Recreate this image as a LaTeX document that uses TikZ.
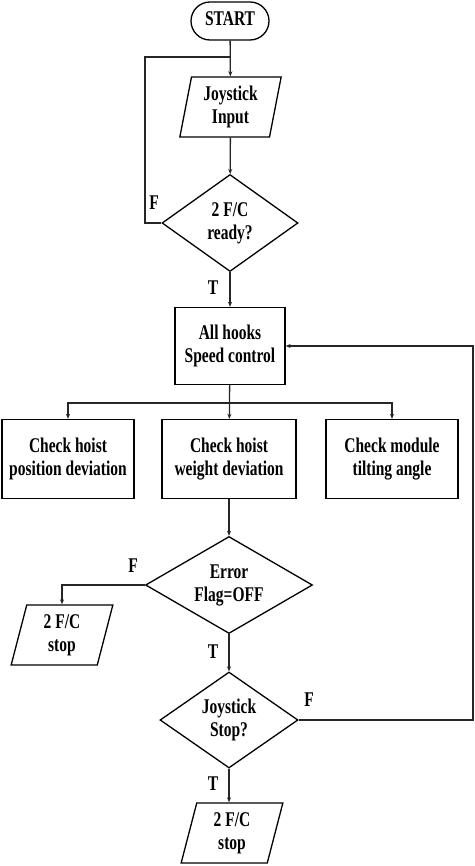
\documentclass[tikz,border=0pt]{standalone}
\usepackage{fontspec}
\usepackage{graphicx}
\setmainfont{Liberation Serif}
\usetikzlibrary{shapes.geometric,shapes.misc,arrows.meta}

\newcommand{\alto}[1]{\scalebox{1}[1.35]{\begin{tabular}{@{}c@{}}#1\end{tabular}}}

\begin{document}
\begin{tikzpicture}[x=1pt,y=-1pt,
	font=\fontsize{15.5}{17}\selectfont\bfseries,
	linea/.style={line width=1.3pt,draw=black!85},
	flecha/.style={linea,-{Stealth[length=5pt,width=4pt]}},
	caja/.style={draw,line width=1.3pt,rectangle,align=center,minimum width=132pt,minimum height=79pt,inner sep=1pt},
	entrada/.style={draw,line width=1.3pt,trapezium,trapezium left angle=80,trapezium right angle=100,trapezium stretches=true,align=center,minimum width=102pt,minimum height=60pt,inner sep=0pt},
	decision/.style={draw,line width=1.3pt,diamond,shape aspect=1.8,align=center,inner sep=0pt},
	etiq/.style={inner sep=0pt}
]

		\useasboundingbox (0,0) rectangle (474,866);

		\node[draw,line width=1.3pt,rounded rectangle,minimum width=80pt,minimum height=38pt,inner sep=1pt] (start) at (230,21) {\alto{START}};
		\node[entrada] (joy) at (230.5,107) {\alto{Joystick\\Input}};
		\node[decision,minimum width=136pt,minimum height=97pt] (ready) at (230,223) {\alto{2 F/C\\ready?}};
		\node[caja,minimum width=110pt,minimum height=77pt] (hooks) at (230,346) {\alto{All hooks\\Speed control}};

		\node[caja] (pos) at (68,459) {\alto{Check hoist\\position deviation}};
		\node[caja,minimum width=134pt] (wgt) at (229,459) {\alto{Check hoist\\weight deviation}};
		\node[caja] (tilt) at (392,459) {\alto{Check module\\tilting angle}};

		\node[decision,minimum width=167pt,minimum height=97pt] (err) at (229,585) {\alto{Error\\Flag=OFF}};
		\node[entrada] (stopA) at (62,635) {\alto{2 F/C\\stop}};
		\node[decision,minimum width=138pt,minimum height=96pt] (jstop) at (229,720) {\alto{Joystick\\Stop?}};
		\node[entrada] (stopB) at (232,833) {\alto{2 F/C\\stop}};

		\coordinate (jn) at (230,57); %union
		\coordinate (br) at (229,403); %rama
		\coordinate (lp) at (145,223); %lazo F
		\coordinate (rt) at (473,720); %lazo derecha

		\draw[flecha] (start) -- (joy);
		\draw[linea] (ready.west) -- (lp) |- (jn);
		\draw[flecha] (joy) -- (ready);
		\draw[flecha] (ready) -- (hooks);

		\draw[flecha] (hooks) -- (wgt);
		\draw[flecha] (br) -| (pos.north);
		\draw[flecha] (br) -| (tilt.north);

		\draw[flecha] (wgt) -- (err);
		\draw[flecha] (err.west) -| (stopA.north);
		\draw[flecha] (err) -- (jstop);
		\draw[flecha] (jstop.east) -- (rt) |- (hooks.east);
		\draw[flecha] (jstop) -- (stopB.north -| jstop.south);

		\node[etiq] (f1) at (154,205) {\alto{F}};
		\node[etiq] (t1) at (213,290) {\alto{T}};
		\node[etiq] (f2) at (133,568) {\alto{F}};
		\node[etiq] (t2) at (213,654) {\alto{T}};
		\node[etiq] (f3) at (309,702) {\alto{F}};
		\node[etiq] (t3) at (213,786) {\alto{T}};

	\end{tikzpicture}
\end{document}
